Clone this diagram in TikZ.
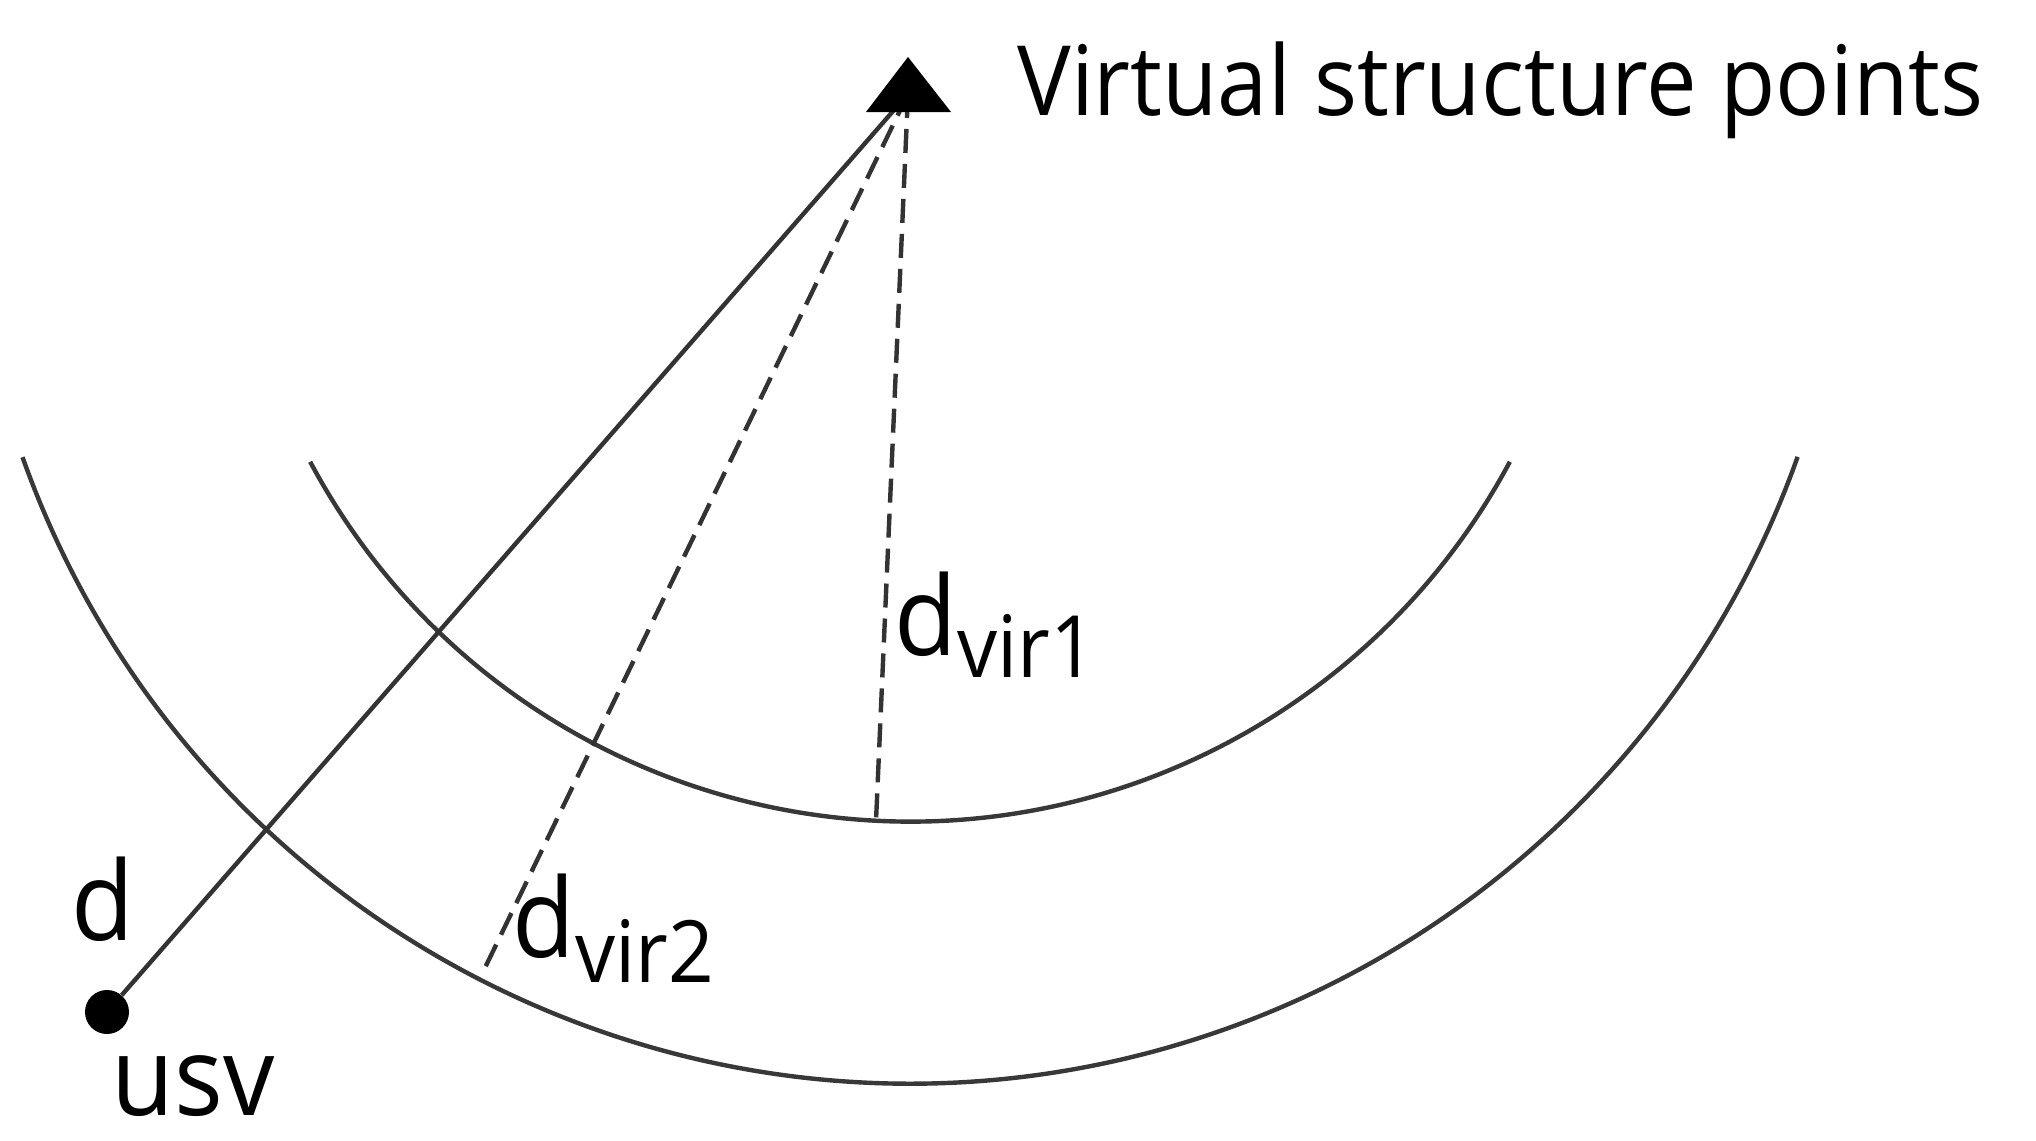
\documentclass[tikz,border=0pt]{standalone}
\usepackage{fontspec}
\setmainfont{Open Sans}[FakeStretch=0.93]
\usetikzlibrary{calc}
\begin{document}
\begin{tikzpicture}[x=0.5pt,y=-0.5pt,
  curve/.style={draw=black!78, line width=2.2pt},
  link/.style={draw=black!80, line width=2.2pt},
  dlink/.style={link, dash pattern=on 12pt off 5.5pt},
  lbl/.style={anchor=base west, inner sep=0pt, font=\fontsize{55pt}{60pt}\selectfont},
  title/.style={anchor=base west, inner sep=0pt, font=\fontsize{48.5pt}{55pt}\selectfont},
  dot/.style={circle, fill=black, inner sep=0pt, minimum size=22pt}]
\fill[white] (0,0) rectangle (2036,1141);
\useasboundingbox (0,0) rectangle (2036,1141);
\coordinate (C) at (910,141.5);
\coordinate (vsp) at (908,94);
\node[dot] (usv) at (107,1012) {};
\coordinate (e1) at (876,821);
\coordinate (e2) at (481,976);
\draw[curve] ($(C)+(160.42:942)$) arc[start angle=160.42, end angle=19.56, radius=942];
\draw[curve] ($(C)+(151.9:680)$) arc[start angle=151.9, end angle=28.1, radius=680];
\draw[link] (vsp) -- (usv);
\draw[dlink] (vsp) -- (e2);
\draw[dlink] (vsp) -- (e1);
\fill (866,112) -- (908,57) -- (951,112) -- cycle;
\node[title] (vtxt) at (1017,115) {Virtual structure points};
\node[lbl] (dl) at (71,940) {d};
\node[lbl] (ul) at (111,1115) {usv};
\node[lbl] (d2) at (512,957) {d\raisebox{-12.5pt}{\fontsize{43pt}{50pt}\selectfont vir2}};
\node[lbl] (d1) at (894,655) {d\raisebox{-11pt}{\fontsize{43pt}{50pt}\selectfont vir1}};
\end{tikzpicture}
\end{document}
